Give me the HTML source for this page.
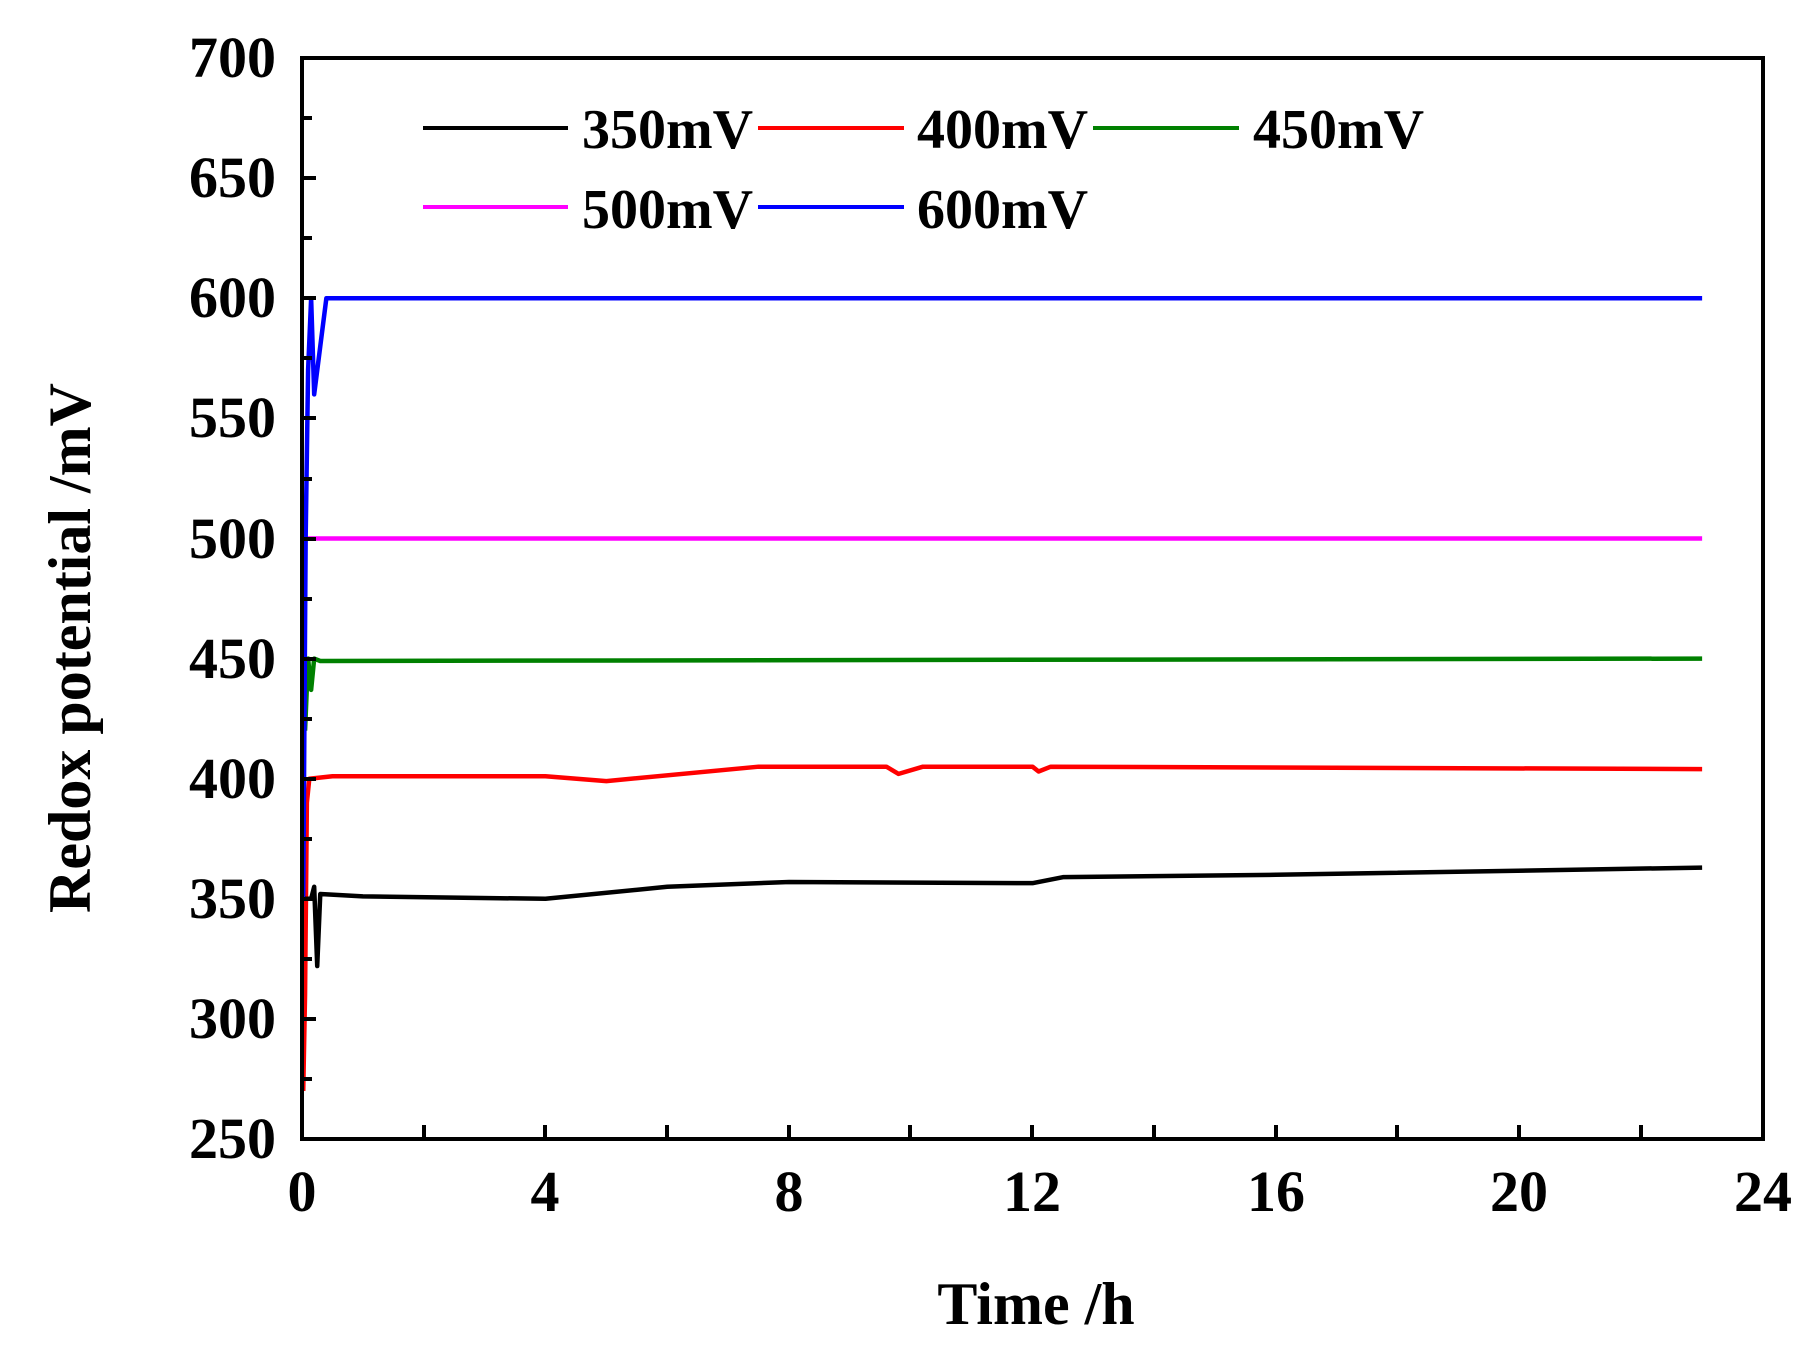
<!DOCTYPE html>
<html><head><meta charset="utf-8"><style>
html,body{margin:0;padding:0;background:#fff;}
svg{display:block;}
text{font-family:"Liberation Serif",serif;font-weight:bold;fill:#000;}
</style></head><body>
<svg width="1820" height="1351" viewBox="0 0 1820 1351" xmlns="http://www.w3.org/2000/svg">
<g transform="translate(302,1139) scale(60.875,-2.402)" fill="none" stroke-width="4.5" stroke-linejoin="round">
<polyline vector-effect="non-scaling-stroke" stroke="#ff00ff" points="0.02,260 0.04,250 0.06,250 0.1,250 23,250"/>
<polyline vector-effect="non-scaling-stroke" stroke="#008000" points="0.05,170 0.1,200 0.15,187 0.2,200 0.3,199 23,200"/>
<polyline vector-effect="non-scaling-stroke" stroke="#ff0000" points="0.02,20 0.05,60 0.08,140 0.12,150 0.5,151 4,151 5,149 7.5,155 9.6,155 9.8,152 10.2,155 12,155 12.1,153 12.3,155 23,154"/>
<polyline vector-effect="non-scaling-stroke" stroke="#0000ff" points="0.02,100 0.06,250 0.1,320 0.15,350 0.2,310 0.3,330 0.4,350 0.5,350 23,350"/>
<polyline vector-effect="non-scaling-stroke" stroke="#000000" points="0.05,100 0.15,100 0.2,105 0.25,72 0.3,102 1,101 4,100 6,105 8,107 12,106.5 12.5,109 16,110 23,113"/>
</g>
<rect x="302" y="58" width="1461" height="1081" fill="none" stroke="#000" stroke-width="4"/>
<g stroke="#000" stroke-width="4">
<path d="M302 58h14M302 178h14M302 298h14M302 418h14M302 539h14M302 659h14M302 779h14M302 899h14M302 1019h14"/>
<path d="M302 118h10M302 238h10M302 358h10M302 479h10M302 599h10M302 719h10M302 839h10M302 959h10M302 1079h10"/>
<path d="M424 1139v-14M545 1139v-14M667 1139v-14M789 1139v-14M910 1139v-14M1032 1139v-14M1154 1139v-14M1276 1139v-14M1397 1139v-14M1519 1139v-14M1641 1139v-14"/>
</g>
<g font-size="58" text-anchor="end">
<text x="276" y="77">700</text><text x="276" y="197">650</text><text x="276" y="317">600</text>
<text x="276" y="437">550</text><text x="276" y="558">500</text><text x="276" y="678">450</text>
<text x="276" y="798">400</text><text x="276" y="918">350</text><text x="276" y="1038">300</text>
<text x="276" y="1158">250</text>
</g>
<g font-size="58" text-anchor="middle">
<text x="302" y="1211">0</text><text x="545" y="1211">4</text><text x="789" y="1211">8</text>
<text x="1032" y="1211">12</text><text x="1276" y="1211">16</text><text x="1519" y="1211">20</text>
<text x="1763" y="1211">24</text>
</g>
<text x="1036" y="1324" font-size="60" text-anchor="middle">Time /h</text>
<text transform="translate(90,648) rotate(-90)" font-size="60" text-anchor="middle">Redox potential /mV</text>
<g stroke-width="4">
<line x1="423" y1="128" x2="568" y2="128" stroke="#000"/>
<line x1="758" y1="128" x2="904" y2="128" stroke="#ff0000"/>
<line x1="1093" y1="128" x2="1239" y2="128" stroke="#008000"/>
<line x1="423" y1="207" x2="568" y2="207" stroke="#ff00ff"/>
<line x1="758" y1="207" x2="904" y2="207" stroke="#0000ff"/>
</g>
<g font-size="56">
<text x="582" y="148">350mV</text><text x="917" y="148">400mV</text><text x="1253" y="148">450mV</text>
<text x="582" y="228">500mV</text><text x="917" y="228">600mV</text>
</g>
</svg>
</body></html>
